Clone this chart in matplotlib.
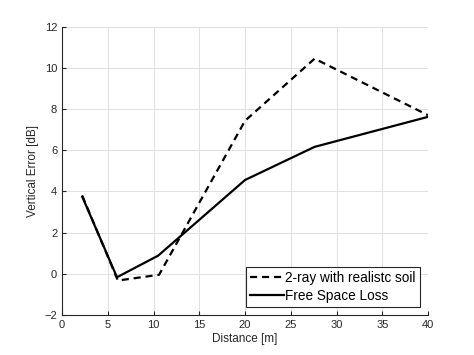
import matplotlib
matplotlib.use('Agg')
import matplotlib.pyplot as plt

plt.rcParams['font.family'] = ['Liberation Sans', 'DejaVu Sans']

# data
dist_fsl = [2.2, 6.0, 10.5, 20.0, 27.6, 40.0]
err_fsl = [3.75, -0.17, 0.88, 4.56, 6.17, 7.63]

dist_2ray = [2.2, 6.1, 10.6, 20.0, 27.6, 40.0]
err_2ray = [3.8, -0.33, -0.05, 7.44, 10.46, 7.71]

xticks = list(range(0, 41, 5))
yticks = list(range(-2, 13, 2))

axcol = (0.15, 0.15, 0.15)

fig = plt.figure(figsize=(4.74, 3.55), dpi=100)
ax = fig.add_axes([0.131, 0.113, 0.772, 0.811])

ax.plot(dist_2ray, err_2ray, color='black', linestyle=(0, (3.2, 2.2)), linewidth=1.6,
        label='2-ray with realistc soil')
ax.plot(dist_fsl, err_fsl, color='black', linestyle='-', linewidth=1.6,
        label='Free Space Loss')

ax.set_xlim(0, 40)
ax.set_ylim(-2, 12)
ax.set_xticks(xticks)
ax.set_yticks(yticks)
ax.grid(True, color=(0.88, 0.88, 0.88), linewidth=0.7)
ax.set_axisbelow(True)

for s in ['top', 'right']:
    ax.spines[s].set_visible(False)
for s in ['left', 'bottom']:
    ax.spines[s].set_color(axcol)
    ax.spines[s].set_linewidth(0.8)

ax.tick_params(direction='in', length=3, width=0.8, colors=axcol, labelsize=8)
ax.set_xlabel('Distance [m]', fontsize=8.5, color=axcol, labelpad=2)
ax.set_ylabel('Vertical Error [dB]', fontsize=8.5, color=axcol, labelpad=4)

leg = ax.legend(loc='lower right', fontsize=9.8, frameon=True, fancybox=False,
                edgecolor=axcol, framealpha=1, handlelength=2.5, handletextpad=0.1,
                borderpad=0.3, labelspacing=0.25, borderaxespad=0.6)
leg.get_frame().set_linewidth(0.8)

fig.savefig('out.png', dpi=100)
